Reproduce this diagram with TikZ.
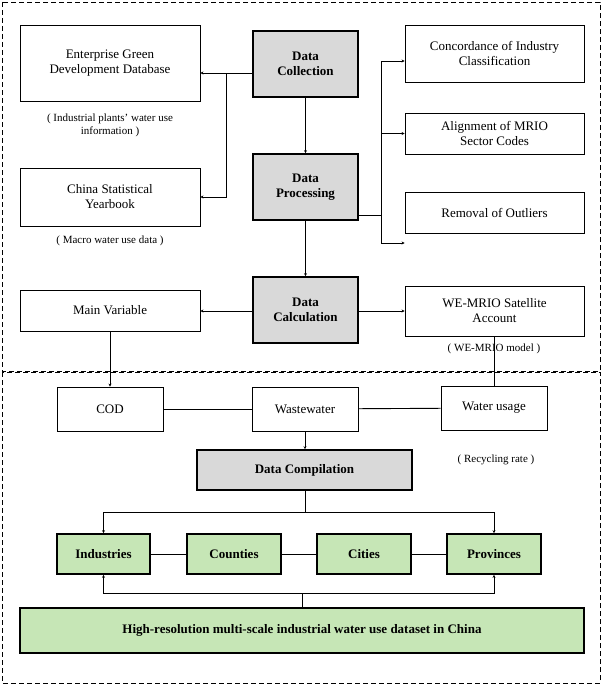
\documentclass[tikz,border=0pt]{standalone}
\usepackage{fontspec}
\setmainfont{Liberation Serif}
\usetikzlibrary{arrows.meta}
\begin{document}
\begin{tikzpicture}[x=1pt,y=-1pt,
  box/.style={draw,line width=0.9pt,align=center,inner sep=1pt,font=\fontsize{13}{15}\selectfont},
  key/.style={box,fill=gray!30,line width=1.6pt,font=\fontsize{13}{15}\selectfont\bfseries},
  grn/.style={box,fill=green!45!lime!20!white,fill=green!18!white,line width=1.6pt,font=\fontsize{13}{15}\selectfont\bfseries},
  note/.style={align=center,font=\fontsize{11}{13}\selectfont},
  ln/.style={line width=0.9pt},
  ar/.style={ln,-{Stealth[length=3pt,width=3pt]}},
  dsh/.style={dashed,line width=0.9pt,dash pattern=on 5pt off 3pt}]
\useasboundingbox (0,0) rectangle (602,685);
\definecolor{gfill}{RGB}{198,230,182}
\def\bx#1#2#3#4#5#6#7{\node[#1,minimum width={#4-#2},minimum height={#5-#3}] (#6) at ({(#2+#4)/2},{(#3+#5)/2}) {#7};}
\draw[dsh] (2,2) rectangle (600,371);
\draw[dsh] (2,372) rectangle (600,683);
\bx{box}{20}{25}{200}{101}{egd}{Enterprise Green\\Development Database}
\bx{key}{253}{31}{358}{97}{dc}{Data\\Collection}
\bx{box}{405}{25}{584}{82}{conc}{Concordance of Industry\\Classification}
\bx{box}{405}{113}{584}{154}{align}{Alignment of MRIO\\Sector Codes}
\bx{box}{405}{192}{584}{233}{rem}{Removal of Outliers}
\bx{key}{253}{154}{358}{220}{dp}{Data\\Processing}
\bx{box}{20}{168}{200}{226}{csy}{China Statistical\\Yearbook}
\bx{key}{253}{277}{358}{343}{dcal}{Data\\Calculation}
\bx{box}{20}{290}{200}{331}{mv}{Main Variable}
\bx{box}{405}{286}{584}{336}{we}{WE-MRIO Satellite\\Account}
\node[note] (n1) at (110,125) {( Industrial plants' water use\\information )};
\node[note] (n2) at (110,241) {( Macro water use data )};
\node[note] (n3) at (494,349) {( WE-MRIO model )};
\bx{box}{57}{387}{163}{431}{cod}{COD}
\bx{box}{252}{387}{358}{431}{ww}{Wastewater}
\bx{box}{441}{386}{547}{430}{wu}{Water usage}
\node[note] (n4) at (496,460) {( Recycling rate )};
\bx{key}{197}{450}{412}{490}{comp}{Data Compilation}
\bx{grn,fill=gfill}{57}{534}{150}{574}{ind}{Industries}
\bx{grn,fill=gfill}{187}{534}{281}{574}{cty}{Counties}
\bx{grn,fill=gfill}{317}{534}{411}{574}{cit}{Cities}
\bx{grn,fill=gfill}{447}{534}{541}{574}{prov}{Provinces}
\bx{grn,fill=gfill}{20}{608}{584}{653}{hr}{High-resolution multi-scale industrial water use dataset in China}
\coordinate (b1) at (226,73);
\draw[ln] (dc.west|-b1) -- (b1);
\draw[ar] (b1) -- (egd.east|-b1);
\draw[ar] (b1) |- (csy.east|-0,197);
\draw[ar] (dc) -- (dp);
\draw[ar] (dp) -- (dcal);
\coordinate (b2) at (381,215);
\draw[ln] (dp.east|-b2) -- (b2);
\draw[ar] (b2) |- (conc.west|-0,61);
\draw[ar] (b2) |- (align);
\draw[ar] (b2) |- (rem.west|-0,243);
\draw[ar] (dcal.west|-0,311) -- (mv.east|-0,311);
\draw[ar] (dcal.east|-0,311) -- (we.west|-0,311);
\draw[ar] (mv.south) -- (mv.south|-cod.north);
\draw[ln] (we.south-|494,0) -- (494,386);
\draw[ln] (cod) -- (ww);
\draw[ln] (ww) -- (wu);
\draw[ar] (ww) -- (ww.south|-comp.north);
\coordinate (b3) at (305,512);
\draw[ln] (comp.south-|b3) -- (b3);
\draw[ar] (b3) -| (ind.north);
\draw[ar] (b3) -| (prov.north);
\draw[ln] (ind) -- (cty); \draw[ln] (cty) -- (cit); \draw[ln] (cit) -- (prov);
\coordinate (b4) at (302,593);
\draw[ln] (hr.north-|b4) -- (b4);
\draw[ar] (b4) -| (ind.south);
\draw[ar] (b4) -| (prov.south);
\end{tikzpicture}
\end{document}
